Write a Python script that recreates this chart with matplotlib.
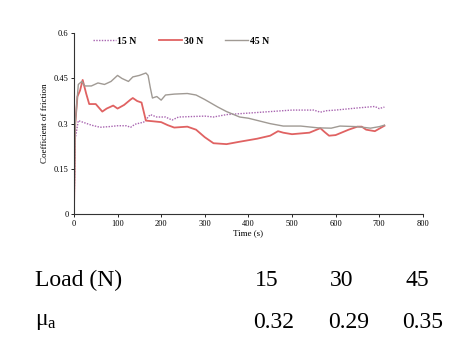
import numpy as np
import matplotlib.pyplot as plt

plt.rcParams['font.family'] = ['Liberation Serif', 'DejaVu Serif']

# time (s) and coefficient of friction
t_15 = [0, 3, 10, 20, 40, 60, 80, 100, 120, 130, 140, 160, 175, 190, 210, 225, 240, 260,
        300, 320, 350, 380, 400, 450, 500, 550, 565, 580, 600, 650, 690, 700, 712]
mu_15 = [0, 0.25, 0.31, 0.305, 0.295, 0.288, 0.29, 0.293, 0.293, 0.288, 0.298, 0.305, 0.33, 0.322,
         0.322, 0.312, 0.322, 0.323, 0.325, 0.322, 0.33, 0.333, 0.335, 0.34, 0.345, 0.345, 0.338, 0.343,
         0.345, 0.352, 0.357, 0.35, 0.355]

t_30 = [0, 3, 8, 14, 20, 28, 35, 50, 65, 75, 90, 100, 115, 130, 135, 145, 155, 165, 180,
        200, 215, 230, 260, 280, 300, 320, 350, 380, 420, 450, 468, 480, 500, 540, 565,
        575, 585, 600, 630, 650, 660, 670, 690, 712]
mu_30 = [0, 0.3, 0.39, 0.41, 0.445, 0.4, 0.365, 0.365, 0.34, 0.35, 0.36, 0.35, 0.362, 0.38, 0.385,
         0.375, 0.37, 0.31, 0.308, 0.305, 0.295, 0.287, 0.29, 0.28, 0.255, 0.235, 0.232, 0.24,
         0.25, 0.26, 0.275, 0.27, 0.265, 0.27, 0.285, 0.272, 0.26, 0.262, 0.28, 0.29, 0.29,
         0.28, 0.275, 0.293]

t_45 = [0, 3, 10, 18, 25, 40, 55, 70, 85, 100, 110, 125, 135, 150, 165, 170, 175, 180, 190,
        200, 210, 230, 260, 280, 300, 330, 350, 380, 400, 450, 480, 520, 560, 590, 610, 650,
        680, 700, 712]
mu_45 = [0, 0.3, 0.43, 0.44, 0.425, 0.425, 0.435, 0.43, 0.44, 0.46, 0.45, 0.44, 0.455, 0.46, 0.468,
         0.46, 0.42, 0.385, 0.39, 0.378, 0.395, 0.398, 0.4, 0.395, 0.38, 0.355, 0.34, 0.322,
         0.318, 0.3, 0.292, 0.292, 0.286, 0.285, 0.292, 0.29, 0.285, 0.29, 0.295]

loads = ['15', '30', '45']
mu_a = ['0.32', '0.29', '0.35']

fig = plt.figure(figsize=(4.74, 3.61), dpi=100)
ax = fig.add_axes([0.156, 0.407, 0.736, 0.501])

ax.plot(t_15, mu_15, color='#a864b0', lw=1.0, ls=(0, (1, 1)), label='15 N')
ax.plot(t_30, mu_30, color='#e06262', lw=1.3, label='30 N')
ax.plot(t_45, mu_45, color='#a09a94', lw=1.0, label='45 N')

ax.set_xlim(0, 800)
ax.set_ylim(0, 0.6)
ax.set_xticks(range(0, 801, 100))
ax.set_yticks([0, 0.15, 0.3, 0.45, 0.6])
ax.set_yticklabels(['0', '0.15', '0.3', '0.45', '0.6'])
ax.tick_params(labelsize=6, length=2, width=0.6, pad=2)
ax.spines['top'].set_visible(False)
ax.spines['right'].set_visible(False)
for s in ('left', 'bottom'):
    ax.spines[s].set_linewidth(0.8)
    ax.spines[s].set_color('#333333')
ax.set_xlabel('Time (s)', fontsize=6.5, labelpad=1)
ax.set_ylabel('Coefficient of friction', fontsize=6.5, labelpad=3)

ax.legend(loc='center left', bbox_to_anchor=(0.03, 0.955), ncol=3, frameon=False,
          handlelength=2.3, columnspacing=2.3, handletextpad=0.2,
          prop={'weight': 'bold', 'size': 7})

# table below the chart
fs = 17
fig.text(35 / 474, 1 - 280 / 361, 'Load (N)', fontsize=fs, va='center')
fig.text(35 / 474, 1 - 322 / 361, r'$\mathregular{\mu_a}$', fontsize=fs, va='center')
for i, (ld, mu) in enumerate(zip(loads, mu_a)):
    fig.text([255, 330, 405][i] / 474, 1 - 280 / 361, ld, fontsize=fs, va='center')
    fig.text([253, 328, 402][i] / 474, 1 - 322 / 361, mu, fontsize=fs, va='center')

fig.savefig('out.png', dpi=100)
